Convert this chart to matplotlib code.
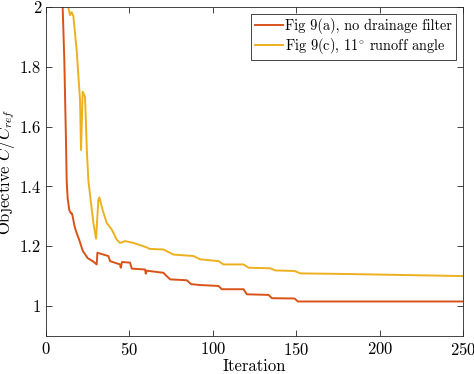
import matplotlib
matplotlib.use("Agg")
import matplotlib.pyplot as plt

plt.rcParams["font.family"] = "serif"
plt.rcParams["font.serif"] = ["cmr10"]
plt.rcParams["mathtext.fontset"] = "cm"
plt.rcParams["axes.unicode_minus"] = False
plt.rcParams["axes.formatter.use_mathtext"] = True

# Fig 9(a), no drainage filter
iter_a = [8, 10, 11, 12, 12.4, 13, 14, 15, 15.5, 16, 17, 18, 20, 22, 25, 28, 30.4,
          30.8, 37.4, 38.4, 44.4, 44.8, 45.6, 50.4, 51.4, 59.4, 59.8, 60.4, 70.4,
          71.4, 74.4, 84.4, 87, 92.4, 103.4, 105.4, 118.4, 120.4, 133.4, 135.4,
          149, 151, 250]
obj_a = [2.2, 2.0, 1.82, 1.55, 1.42, 1.36, 1.32, 1.31, 1.31, 1.30, 1.27, 1.25,
         1.22, 1.185, 1.16, 1.15, 1.139, 1.178, 1.167, 1.15, 1.139, 1.128, 1.147,
         1.145, 1.125, 1.122, 1.108, 1.118, 1.111, 1.105, 1.089, 1.086, 1.073,
         1.07, 1.067, 1.056, 1.056, 1.039, 1.037, 1.026, 1.025, 1.015, 1.015]

# Fig 9(c), 11 degree runoff angle
iter_c = [12.5, 13.4, 14.4, 15.4, 16.4, 18.4, 20.4, 21, 22, 23.4, 24.5, 25.4,
          28.4, 30, 31.4, 32, 34, 36.4, 39.4, 42.4, 44.4, 47.4, 52.4, 60.4, 62,
          70.4, 76.4, 88.4, 92.4, 103.4, 106.4, 118.4, 121.4, 134.4, 137.4,
          149, 152.4, 180, 250]
obj_c = [2.1, 2.0, 1.973, 1.983, 1.97, 1.856, 1.689, 1.522, 1.717, 1.70, 1.52,
         1.42, 1.278, 1.225, 1.355, 1.363, 1.32, 1.278, 1.256, 1.222, 1.211,
         1.217, 1.211, 1.196, 1.191, 1.189, 1.172, 1.167, 1.156, 1.15, 1.139,
         1.139, 1.128, 1.126, 1.119, 1.117, 1.109, 1.107, 1.10]

fig = plt.figure(figsize=(4.74, 3.74), dpi=100)
ax = fig.add_axes([0.097, 0.102, 0.88, 0.879])

ax.plot(iter_a, obj_a, color="#D95319", lw=1.4, label="Fig 9(a), no drainage filter")
ax.plot(iter_c, obj_c, color="#EDB120", lw=1.4,
        label="Fig 9(c), $\\mathrm{11}^{\\circ}$ runoff angle")

ax.set_xlim(0, 250)
ax.set_ylim(0.9, 2)
ax.set_xticks([0, 50, 100, 150, 200, 250])
ax.set_yticks([1, 1.2, 1.4, 1.6, 1.8, 2])
ax.set_yticklabels(["1", "1.2", "1.4", "1.6", "1.8", "2"])
ax.tick_params(direction="in", top=True, right=True, labelsize=12,
               color="#262626", width=0.6, length=4)
for s in ax.spines.values():
    s.set_color("#262626")
    s.set_linewidth(0.6)

ax.set_xlabel("Iteration", fontsize=12, labelpad=1)
ax.set_ylabel("Objective $C/C_{ref}$", fontsize=12, labelpad=2)

leg = ax.legend(loc="upper right", fontsize=10.3, fancybox=False, edgecolor="#262626",
                framealpha=1, borderaxespad=0.5, handlelength=2.0,
                handletextpad=0.15, borderpad=0.25, labelspacing=0.15)
leg.get_frame().set_linewidth(0.6)

fig.savefig("out.png", dpi=100)
